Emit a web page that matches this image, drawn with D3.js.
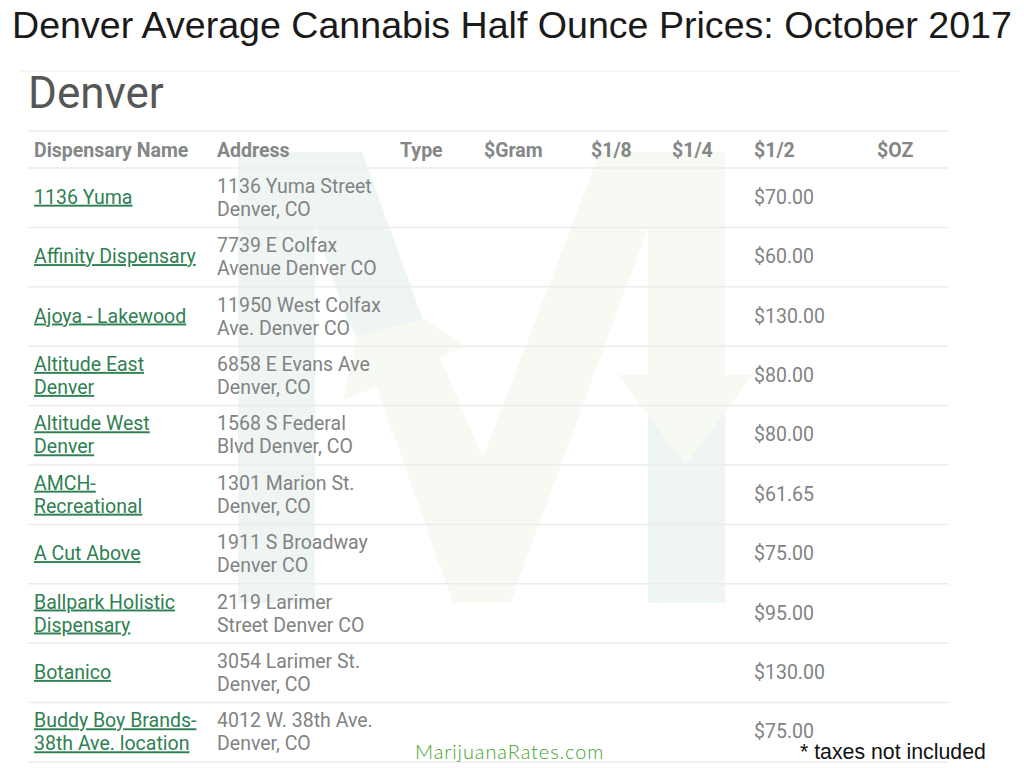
<!DOCTYPE html>
<html>
<head>
  <meta charset="utf-8">
  <script src="https://d3js.org/d3.v7.min.js"></script>
  <style>
  html, body{
    margin: 0;
    padding: 0;
    background: #fff;
    overflow: hidden;
  }
  svg{
    display: block;
  }
  .cell{
    font-family: Roboto, sans-serif;
    font-size: 19.5px;
    fill: #818383;
  }
  .head{
    font-family: Roboto, sans-serif;
    font-size: 19.5px;
    font-weight: 700;
    fill: #858787;
  }
  .name{
    font-family: Roboto, sans-serif;
    font-size: 19.5px;
    fill: #2f8052;
    text-decoration: underline;
  }
  </style>
</head>
<body>
  <script type="text/javascript">
    var width=1024;
    var height=768;

    var columns=["Dispensary Name","Address","Type","$Gram","$1/8","$1/4","$1/2","$OZ"];
    var columnX=[34,217,400,484,591,672,754,877];

    var names=[
      ["1136 Yuma"],
      ["Affinity Dispensary"],
      ["Ajoya - Lakewood"],
      ["Altitude East","Denver"],
      ["Altitude West","Denver"],
      ["AMCH-","Recreational"],
      ["A Cut Above"],
      ["Ballpark Holistic","Dispensary"],
      ["Botanico"],
      ["Buddy Boy Brands-","38th Ave. location"]
    ];
    var addresses=[
      ["1136 Yuma Street","Denver, CO"],
      ["7739 E Colfax","Avenue Denver CO"],
      ["11950 West Colfax","Ave. Denver CO"],
      ["6858 E Evans Ave","Denver, CO"],
      ["1568 S Federal","Blvd Denver, CO"],
      ["1301 Marion St.","Denver, CO"],
      ["1911 S Broadway","Denver CO"],
      ["2119 Larimer","Street Denver CO"],
      ["3054 Larimer St.","Denver, CO"],
      ["4012 W. 38th Ave.","Denver, CO"]
    ];
    var halfOunce=[70,60,130,80,80,61.65,75,95,130,75];

    // watermark outline, blue parts sit on top of the green ones
    var markGreen=[
      [[600,152],[725,152],[725,375],[753,375],[685,465],[618,375],[648,375],[648,228],[510,603],[453,603],[377,387],[343,400],[357,337],[425,320],[465,347],[440,357],[483,457]]
    ];
    var markBlue=[
      [[238,152],[362,152],[423,320],[357,337],[348,322],[315,228],[315,603],[238,603]],
      [[648,415],[685,465],[725,412],[725,603],[648,603]]
    ];

    var svg=d3.select("body").append("svg")
              .attr("width",width)
              .attr("height",height);

    var x=d3.scaleOrdinal().domain(columns).range(columnX);
    var y=d3.scaleBand().domain(d3.range(names.length)).range([168,762]);
    var lineH=23;
    var money=d3.format("$.2f");
    var outline=d3.line();

    // watermark
    svg.selectAll("path.green")
       .data(markGreen)
       .enter()
       .append("path")
       .attr("class","green")
       .attr("d",function(d){ return outline(d)+"Z" })
       .attr("fill","#f6faf3");
    svg.selectAll("path.blue")
       .data(markBlue)
       .enter()
       .append("path")
       .attr("class","blue")
       .attr("d",function(d){ return outline(d)+"Z" })
       .attr("fill","#eff5f3");

    // title
    svg.append("text")
       .attr("x",512)
       .attr("y",38)
       .attr("text-anchor","middle")
       .style("font-family","'Liberation Sans', sans-serif")
       .style("font-size","37.6px")
       .style("fill","#1a1a1a")
       .text("Denver Average Cannabis Half Ounce Prices: October 2017");

    svg.append("line")
       .attr("x1",20).attr("x2",960)
       .attr("y1",71).attr("y2",71)
       .attr("stroke","#f6f6f6")
       .attr("stroke-width",2);

    svg.append("text")
       .attr("x",28)
       .attr("y",108)
       .style("font-family","Roboto, sans-serif")
       .style("font-size","44px")
       .style("fill","#555757")
       .text("Denver");

    // rules
    var rules=[131].concat(y.domain().map(function(d){ return y(d) }),[762]);
    svg.selectAll("line.rule")
       .data(rules)
       .enter()
       .append("line")
       .attr("class","rule")
       .attr("x1",28).attr("x2",949)
       .attr("y1",function(d){ return d })
       .attr("y2",function(d){ return d })
       .attr("stroke","#ececec")
       .attr("stroke-width",1.5);

    // header
    svg.selectAll("text.head")
       .data(columns)
       .enter()
       .append("text")
       .attr("class","head")
       .attr("x",function(d){ return x(d) })
       .attr("y",157)
       .text(function(d){ return d });

    // two line cells, centred in their row
    var drawCell=function(lines,row,column,cls){
      var nudge=lines.length==1 ? 6 : 6.5;
      lines.forEach(function(t,i){
        svg.append("text")
           .attr("class",cls)
           .attr("x",x(column))
           .attr("y",y(row)+y.bandwidth()/2+nudge+(i-(lines.length-1)/2)*lineH)
           .text(t);
      });
    };

    names.forEach(function(d,i){
      drawCell(d,i,"Dispensary Name","name");
      drawCell(addresses[i],i,"Address","cell");
      drawCell([money(halfOunce[i])],i,"$1/2","cell");
    });

    // footer
    svg.append("text")
       .attr("x",415)
       .attr("y",759)
       .style("font-family","Lato, sans-serif")
       .style("font-weight","300")
       .style("font-size","20px")
       .style("letter-spacing","0.9px")
       .style("fill","#3f9f28")
       .text("MarijuanaRates.com");

    svg.append("text")
       .attr("x",800)
       .attr("y",759)
       .style("font-family","'Liberation Sans', sans-serif")
       .style("font-size","21.3px")
       .style("fill","#111")
       .text("* taxes not included");
  </script>
</body>
</html>
